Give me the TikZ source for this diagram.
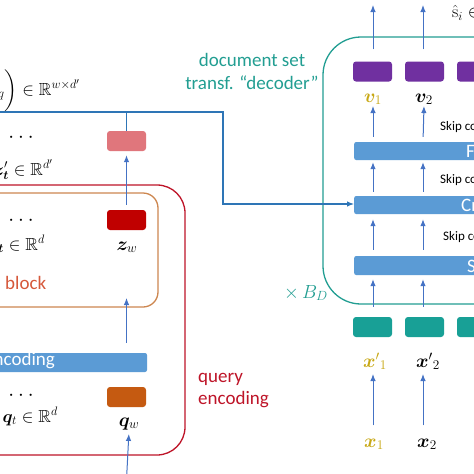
\RequirePackage{fix-cm}
\documentclass[tikz,border=0pt]{standalone}
\usepackage{amsmath,amssymb}
\usepackage{bm}
\usepackage[no-math]{fontspec}
\setmainfont{Carlito}
\usetikzlibrary{arrows.meta}
\definecolor{arrblue}{RGB}{68,114,196}
\definecolor{connblue}{RGB}{46,117,182}
\definecolor{barblue}{RGB}{91,155,213}
\definecolor{cpink}{RGB}{224,118,124}
\definecolor{cdred}{RGB}{192,0,0}
\definecolor{corange}{RGB}{197,90,17}
\definecolor{cpurple}{RGB}{112,48,160}
\definecolor{ctealbox}{RGB}{24,160,150}
\definecolor{cteal}{RGB}{34,158,146}
\definecolor{cgold}{RGB}{200,168,20}
\definecolor{cqred}{RGB}{190,20,40}
\definecolor{cbframe}{RGB}{205,135,80}
\definecolor{cblock}{RGB}{214,88,58}
\begin{document}
\begin{tikzpicture}[x=1pt,y=-1pt,
  arr/.style={draw=arrblue,line width=1pt,-{Latex[length=7pt,width=5.5pt]}},
  conn/.style={draw=connblue,line width=1.1pt},
  sbox/.style={rectangle,rounded corners=3pt,minimum width=39pt,minimum height=20pt,inner sep=0pt,draw=none},
  bar/.style={rectangle,rounded corners=2pt,fill=barblue,inner sep=0pt,draw=none},
  bartext/.style={text=white,font=\fontsize{19}{22}\selectfont,inner sep=0pt},
  lab/.style={font=\fontsize{19}{21}\selectfont,inner sep=1pt},
  mtext/.style={font=\fontsize{17.5}{20}\selectfont,inner sep=0pt},
  skip/.style={font=\fontsize{13}{15}\selectfont,inner sep=0pt,anchor=west},
  dots/.style={font=\fontsize{15}{17}\selectfont,inner sep=0pt}
]
\useasboundingbox (0,0) rectangle (474,474);
\clip (0,0) rectangle (474,474);
\fill[white] (0,0) rectangle (474,474);

% frames
\draw[cqred,line width=1.3pt,rounded corners=28pt] (-100,185) rectangle (185,455);
\draw[cbframe,line width=1.3pt,rounded corners=15pt] (-100,193) rectangle (158,307);
\draw[cteal,line width=1.3pt,rounded corners=38pt] (323,37) rectangle (620,304);

% left column boxes
\node[sbox,fill=cpink] (zp) at (126.5,141) {};
\node[sbox,fill=cdred] (zw) at (126.5,220) {};
\node[sbox,fill=corange] (qw) at (126.5,397) {};
\node[bar,minimum width=187pt,minimum height=19pt] (pe) at (53.5,362.5) {};
\node[bartext,anchor=east] (pet) at (55,361) {encoding};

\node[lab,anchor=base] (zwl) at (127,250) {$\bm{z}_{w}$};
\node[lab,anchor=base] (qwl) at (129,426) {$\bm{q}_{w}$};

\node[mtext,anchor=base east] (t0) at (80,95) {$\bm{\theta}_q\bigg)\in\mathbb{R}^{w\times d'}$};
\node[mtext,anchor=base east] (t1) at (53,175) {$\bm{z}'_{\bm{t}}\in\mathbb{R}^{d'}$};
\node[mtext,anchor=base east] (t2) at (45,250) {$\bm{z}_{\bm{t}}\in\mathbb{R}^{d}$};
\node[mtext,anchor=base east] (t3) at (58,422) {$\bm{q}_{t}\in\mathbb{R}^{d}$};
\node[dots] (d1) at (21,139) {·\hspace{6pt}·\hspace{6pt}·};
\node[dots] (d2) at (21,222) {·\hspace{6pt}·\hspace{6pt}·};
\node[dots] (d3) at (21,397) {·\hspace{6pt}·\hspace{6pt}·};

\node[font=\fontsize{19}{22}\selectfont,text=cblock,anchor=west,inner sep=0pt] (blk) at (5,283) {block};
\node[font=\fontsize{19}{22}\selectfont,text=cqred,anchor=base west,align=left,inner sep=0pt] (qe) at (198,404) {query\\encoding};

% left arrows
\coordinate (zin) at (126.5,298);
\coordinate (qin) at (126.5,480);
\draw[arr,shorten <=5pt,shorten >=4pt] (zw.north) -- (zp.south);
\draw[arr,shorten <=10pt] (pe.north -| zw) -- (zin);
\draw[arr,shorten >=3pt] (qin) -- (qwl.south);

% connector to cross attention
\coordinate (Lin) at (-5,112);
\coordinate (J1) at (223,112);
\coordinate (J2) at (223,204);

% right side
\node[font=\fontsize{19}{23}\selectfont,text=cteal,align=center,inner sep=0pt] (dtitle) at (252,71) {document set\\transf. “decoder”};
\node[font=\fontsize{19}{22}\selectfont,text=cteal,inner sep=0pt] (bd) at (306,293) {$\times\, B_D$};

\node[sbox,fill=cpurple] (v1) at (372.5,71.5) {};
\node[sbox,fill=cpurple] (v2) at (424.5,71.5) {};
\node[sbox,fill=cpurple] (v3) at (476.5,71.5) {};

\node[bar,minimum width=260pt,minimum height=18pt,anchor=west] (ff) at (354,151) {};
\node[bar,minimum width=260pt,minimum height=18pt,anchor=west] (ca) at (354,205) {};
\node[bar,minimum width=260pt,minimum height=19pt,anchor=west] (sa) at (354,265.5) {};
\node[bartext,anchor=west] (fft) at (466,151) {FF};
\node[bartext,anchor=west] (cat) at (461,205) {Cross-attention};
\node[bartext,anchor=west] (sat) at (467,265.5) {Self-attention};

\node[skip] (s1) at (440,127) {Skip connection};
\node[skip] (s2) at (440,180) {Skip connection};
\node[skip] (s3) at (443,237) {Skip connection};

\node[sbox,fill=ctealbox] (x1b) at (372.5,327) {};
\node[sbox,fill=ctealbox] (x2b) at (424.5,327) {};
\node[sbox,fill=ctealbox] (x3b) at (476.5,327) {};

\node[lab,anchor=base,text=cgold] (v1l) at (373,102) {$\bm{v}_1$};
\node[lab,anchor=base] (v2l) at (424,102) {$\bm{v}_2$};
\node[lab,anchor=base,text=cgold] (x1p) at (375,367) {${\bm{x}'}_1$};
\node[lab,anchor=base] (x2p) at (428,367) {${\bm{x}'}_2$};
\node[lab,anchor=base,text=cgold] (x1) at (374,447) {$\bm{x}_1$};
\node[lab,anchor=base] (x2) at (427,447) {$\bm{x}_2$};

\node[mtext,anchor=west] (shat) at (452,13) {$\hat{\mathrm{s}}_i\in$};

\coordinate (o1) at (373,5);
\coordinate (o2) at (423,5);

% right arrows
\foreach \c/\l/\xb/\xp/\xl/\o in {373/v1l/x1b/x1p/x1/o1, 423/v2l/x2b/x2p/x2/o2}{
  \draw[arr,shorten <=12pt] (v1.north -| \o) -- (\o);
  \draw[arr,shorten <=5pt] (ff.north -| \o) -- (\l.south);
  \draw[arr,shorten <=4pt,shorten >=2pt] (ca.north -| \o) -- (ff.south -| \o);
  \draw[arr,shorten <=6pt,shorten >=5pt] (sa.north -| \o) -- (ca.south -| \o);
  \draw[arr,shorten <=10pt,shorten >=4pt] (\xb.north -| \o) -- (sa.south -| \o);
  \draw[arr,shorten <=12pt,shorten >=3pt] (\xl.north -| \o) -- (\xp.south -| \o);
}

\draw[conn] (zp.north) -- (zp.north |- J1);
\draw[conn,-{Latex[length=7pt,width=5.5pt]}] (Lin) -- (J1) -- (J2) -- (J2 -| ca.west);
\end{tikzpicture}
\end{document}
